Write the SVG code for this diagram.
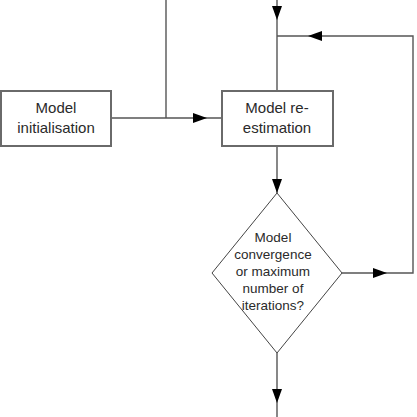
<svg xmlns="http://www.w3.org/2000/svg" width="417" height="417" viewBox="0 0 417 417">
<style>
.box{fill:#fff;stroke:#6a6a6a;stroke-width:2}
.dia{fill:#fff;stroke:#444;stroke-width:1}
.ln{fill:none;stroke:#555;stroke-width:1.4}
.t{font-family:"Liberation Sans",Arial,sans-serif;font-size:15px;fill:#2a2a2a;text-anchor:middle}
.td{font-family:"Liberation Sans",Arial,sans-serif;font-size:13.5px;fill:#2a2a2a;text-anchor:middle}
.ah{fill:#000}
</style>
<rect width="417" height="417" fill="#fff"/>
<g id="connectors">
<path class="ln" d="M166,0 V118"/>
<path class="ln" d="M111,118 H222"/>
<polygon class="ah" points="193,113 207,118 193,123"/>
<path class="ln" d="M277,0 V91"/>
<polygon class="ah" points="272,6 277,20 282,6"/>
<path class="ln" d="M277,36 H413 V273 H342"/>
<polygon class="ah" points="322,31 308,36 322,41"/>
<polygon class="ah" points="373,268 387,273 373,278"/>
<path class="ln" d="M277,146 V193"/>
<polygon class="ah" points="272,179 277,193 282,179"/>
<path class="ln" d="M277,353 V417"/>
<polygon class="ah" points="272,389 277,403 282,389"/>
</g>
<g id="node-init">
<rect class="box" x="1" y="91" width="110" height="55"/>
<text class="t" x="56" y="113">Model</text>
<text class="t" x="56" y="133">initialisation</text>
</g>
<g id="node-reest">
<rect class="box" x="222" y="91" width="111" height="55"/>
<text class="t" x="277" y="113">Model re-</text>
<text class="t" x="277" y="133">estimation</text>
</g>
<g id="node-decision">
<polygon class="dia" points="277,193 342,273 277,353 212,273"/>
<text class="td" x="273" y="242">Model</text>
<text class="td" x="273" y="259">convergence</text>
<text class="td" x="273" y="276">or maximum</text>
<text class="td" x="273" y="293">number of</text>
<text class="td" x="273" y="310">iterations?</text>
</g>
</svg>
